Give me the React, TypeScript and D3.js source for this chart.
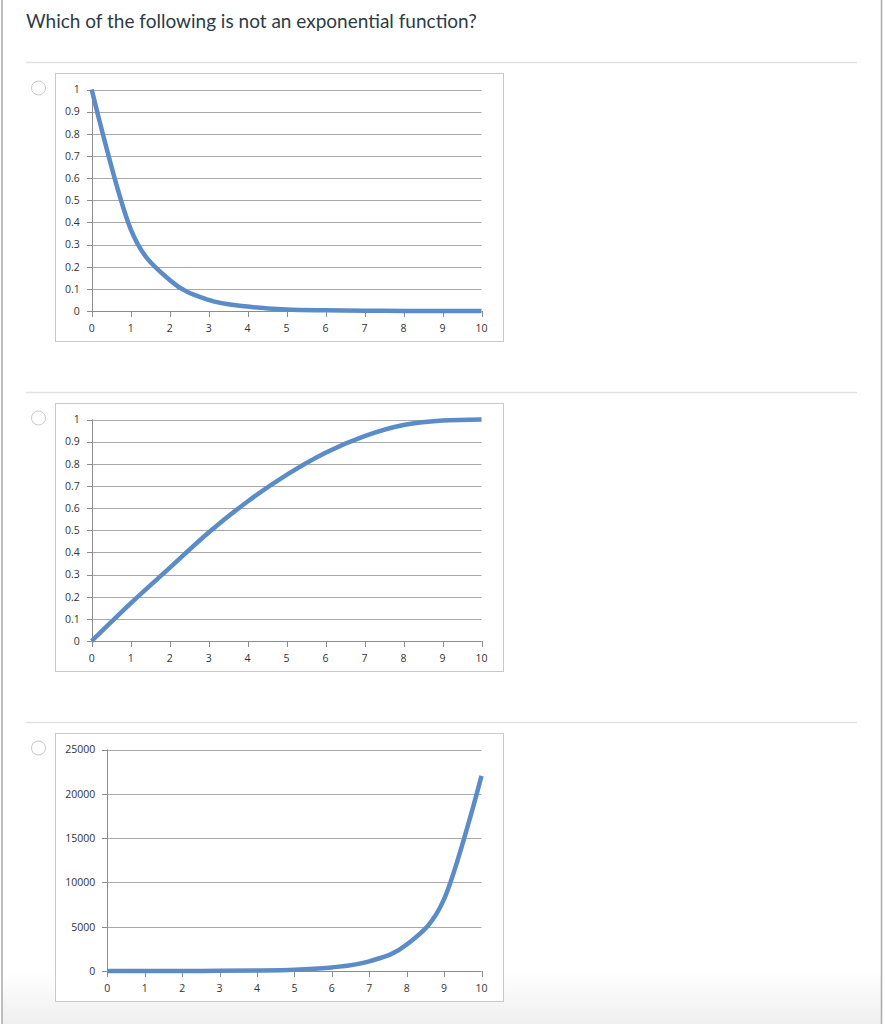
import React, { useRef, useEffect } from 'react'
import * as d3 from 'd3'

// x values shared by all three graphs
const xValues = [0, 1, 2, 3, 4, 5, 6, 7, 8, 9, 10]

// graph A: decaying curve
const decayValues = [1, 0.37, 0.14, 0.05, 0.02, 0.007, 0.003, 0.001, 0.0005, 0.0002, 0.0001]
// graph B: rising curve that levels off at 1
const riseValues = [0, 0.17, 0.33, 0.49, 0.63, 0.75, 0.85, 0.925, 0.975, 0.995, 1]
// graph C: fast growth
const growthValues = [1, 3, 7, 20, 55, 148, 403, 1097, 2981, 8103, 22026]

const fractionTicks = [0, 0.1, 0.2, 0.3, 0.4, 0.5, 0.6, 0.7, 0.8, 0.9, 1]
const fractionLabels = ['0', '0.1', '0.2', '0.3', '0.4', '0.5', '0.6', '0.7', '0.8', '0.9', '1']
const bigTicks = [0, 5000, 10000, 15000, 20000, 25000]
const bigLabels = ['0', '5000', '10000', '15000', '20000', '25000']

const questionText = 'Which of the following is not an exponential function?'

const WIDTH = 885
const HEIGHT = 1024
const STEP = 330 // vertical distance between answer options

interface GraphProps {
  top: number
  plotLeft: number
  values: number[]
  yMax: number
  yTicks: number[]
  yLabels: string[]
}

function Graph({ top, plotLeft, values, yMax, yTicks, yLabels }: GraphProps) {
  const gRef = useRef<SVGGElement>(null)

  useEffect(() => {
    if (!gRef.current) return
    const g = d3.select(gRef.current)
    g.selectAll('*').remove()

    const boxLeft = 55.5
    const boxRight = 503.5
    const boxTop = top
    const boxBottom = top + 268
    const plotTop = top + 16
    const plotBottom = top + 237.5
    const plotRight = 481.5

    // outer chart frame
    g.append('rect')
      .attr('x', boxLeft)
      .attr('y', boxTop)
      .attr('width', boxRight - boxLeft)
      .attr('height', boxBottom - boxTop)
      .attr('fill', 'white')
      .attr('stroke', '#c9c9c9')
      .attr('stroke-width', 1)

    const x = d3.scaleLinear().domain([0, 10]).range([plotLeft, plotRight])
    const y = d3.scaleLinear().domain([0, yMax]).range([plotBottom, plotTop])

    // horizontal gridlines
    g.append('g')
      .selectAll('line')
      .data(yTicks.slice(1))
      .join('line')
      .attr('x1', plotLeft)
      .attr('x2', plotRight)
      .attr('y1', d => Math.round(y(d)) + 0.5)
      .attr('y2', d => Math.round(y(d)) + 0.5)
      .attr('stroke', '#a8a8a8')
      .attr('stroke-width', 1)

    // y axis
    const yAxis = g.append('g')
    yAxis.append('line')
      .attr('x1', Math.round(plotLeft) + 0.5)
      .attr('x2', Math.round(plotLeft) + 0.5)
      .attr('y1', plotTop)
      .attr('y2', plotBottom)
      .attr('stroke', '#8c8c8c')
    yAxis.selectAll('line.tick')
      .data(yTicks)
      .join('line')
      .attr('class', 'tick')
      .attr('x1', Math.round(plotLeft) - 5)
      .attr('x2', Math.round(plotLeft))
      .attr('y1', d => Math.round(y(d)) + 0.5)
      .attr('y2', d => Math.round(y(d)) + 0.5)
      .attr('stroke', '#8c8c8c')
    yAxis.selectAll('text')
      .data(yTicks)
      .join('text')
      .attr('x', plotLeft - 12)
      .attr('y', d => y(d) + 3.8)
      .attr('text-anchor', 'end')
      .attr('font-family', '"Open Sans", sans-serif')
      .attr('font-size', '10.5px')
      .attr('fill', '#333')
      .text((d, i) => yLabels[i])

    // x axis
    const xAxis = g.append('g')
    xAxis.append('line')
      .attr('x1', plotLeft)
      .attr('x2', plotRight)
      .attr('y1', Math.round(plotBottom) + 0.5)
      .attr('y2', Math.round(plotBottom) + 0.5)
      .attr('stroke', '#8c8c8c')
    xAxis.selectAll('line.tick')
      .data(xValues)
      .join('line')
      .attr('class', 'tick')
      .attr('x1', d => Math.round(x(d)) + 0.5)
      .attr('x2', d => Math.round(x(d)) + 0.5)
      .attr('y1', Math.round(plotBottom))
      .attr('y2', Math.round(plotBottom) + 6)
      .attr('stroke', '#8c8c8c')
    xAxis.selectAll('text')
      .data(xValues)
      .join('text')
      .attr('x', d => x(d))
      .attr('y', plotBottom + 21)
      .attr('text-anchor', 'middle')
      .attr('font-family', '"Open Sans", sans-serif')
      .attr('font-size', '10.5px')
      .attr('fill', '#333')
      .text(d => String(d))

    // smoothed data line
    const line = d3.line<number>()
      .x((d, i) => x(xValues[i]))
      .y(d => y(d))
      .curve(d3.curveCardinal.tension(0))

    g.append('path')
      .datum(values)
      .attr('d', line)
      .attr('fill', 'none')
      .attr('stroke', '#5b8cc8')
      .attr('stroke-width', 4.5)
      .attr('stroke-linejoin', 'round')
  }, [top, plotLeft, values, yMax, yTicks, yLabels])

  return <g ref={gRef} />
}

export default function App() {
  const options = [0, 1, 2]

  return (
    <svg
      width={WIDTH}
      height={HEIGHT}
      style={{ position: 'absolute', left: 0, top: 0, display: 'block' }}
    >
      <defs>
        <linearGradient id="footFade" x1="0" y1="0" x2="0" y2="1">
          <stop offset="0" stopColor="#ffffff" />
          <stop offset="1" stopColor="#efefef" />
        </linearGradient>
      </defs>
      <rect x={0} y={0} width={WIDTH} height={HEIGHT} fill="white" />
      <rect x={2} y={972} width={879} height={52} fill="url(#footFade)" />

      {/* page frame */}
      <line x1={2} x2={2} y1={0} y2={HEIGHT} stroke="#a9a9a9" strokeWidth={1.5} />
      <line x1={881.5} x2={881.5} y1={0} y2={HEIGHT} stroke="#a9a9a9" strokeWidth={1.5} />

      <text
        x={26}
        y={28}
        fontFamily="Lato, sans-serif"
        fontSize="19px"
        fill="#2d3b45"
      >
        {questionText}
      </text>

      {options.map(i => (
        <g key={i}>
          <line
            x1={26}
            x2={857}
            y1={62.5 + i * STEP}
            y2={62.5 + i * STEP}
            stroke="#e2e2e2"
            strokeWidth={1.5}
          />
          <circle cx={38.5} cy={88 + i * STEP} r={7} fill="white" stroke="#c8c8c8" strokeWidth={1} />
        </g>
      ))}

      <Graph top={73.5} plotLeft={91.7} values={decayValues} yMax={1} yTicks={fractionTicks} yLabels={fractionLabels} />
      <Graph top={73.5 + STEP} plotLeft={91.7} values={riseValues} yMax={1} yTicks={fractionTicks} yLabels={fractionLabels} />
      <Graph top={73.5 + 2 * STEP} plotLeft={107.3} values={growthValues} yMax={25000} yTicks={bigTicks} yLabels={bigLabels} />
    </svg>
  )
}
